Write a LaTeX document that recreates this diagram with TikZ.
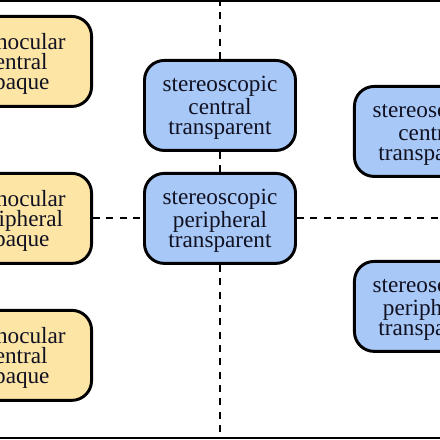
\documentclass[tikz,border=0pt]{standalone}
\usepackage{fontspec}
\setmainfont{Liberation Serif}
\usetikzlibrary{positioning, calc}
\definecolor{DSmono}{HTML}{FCE5A5}
\definecolor{DSstereo}{HTML}{A8C8F7}
\definecolor{DSink}{HTML}{111122}
\tikzset{
  dsbox/.style={rectangle, rounded corners=14pt, draw=black, line width=2.1pt,
    text=DSink, align=center, inner sep=2pt, minimum width=3.775cm,
    minimum height=2.25cm, text depth=0pt, font=\fontsize{16.5}{14.4}\selectfont},
  dsmono/.style={dsbox, fill=DSmono},
  dsstereo/.style={dsbox, fill=DSstereo},
  dsaxis/.style={line width=1.4pt, dash pattern=on 5pt off 4.5pt, draw=black},
  dsframe/.style={line width=1.4pt, draw=black},
}
\begin{document}
\begin{tikzpicture}[node distance=1.25cm and 1.25cm]
        \path[use as bounding box, clip] (0,0) rectangle (11,11);
        \coordinate (nw) at (0,10.975);
        \coordinate (ne) at (11,10.975);
        \coordinate (sw) at (0,0.06);
        \coordinate (se) at (11,0.06);
        \node[dsstereo] (cper) at (5.5,5.54){stereoscopic\\peripheral\\transparent};
        \node[dsstereo, above=0.5cm of cper] (ctop){stereoscopic\\central\\transparent};
        \node[dsmono, left=of cper] (lper){monocular\\peripheral\\opaque};
        \node[dsmono, above=1.6cm of lper] (ltop){monocular\\central\\opaque};
        \node[dsmono, below=1.1cm of lper] (lbot){monocular\\central\\opaque};
        \node[dsstereo, right=1.4cm of ctop, yshift=-0.65cm] (rtop){stereoscopic\\central\\transparent};
        \node[dsstereo, right=1.4cm of cper, yshift=-2.2cm] (rper){stereoscopic\\peripheral\\transparent};
        \draw[dsframe](nw)--(ne);
        \draw[dsframe](sw)--(se);
        \draw[dsaxis](ctop.north)--(ctop.north |- nw);
        \draw[dsaxis](ctop)--(cper);
        \draw[dsaxis](cper.south)--(cper.south |- sw);
        \draw[dsaxis](lper)--(cper);
        \draw[dsaxis](cper.east)--(cper.east -| ne);
      \end{tikzpicture}
\end{document}
